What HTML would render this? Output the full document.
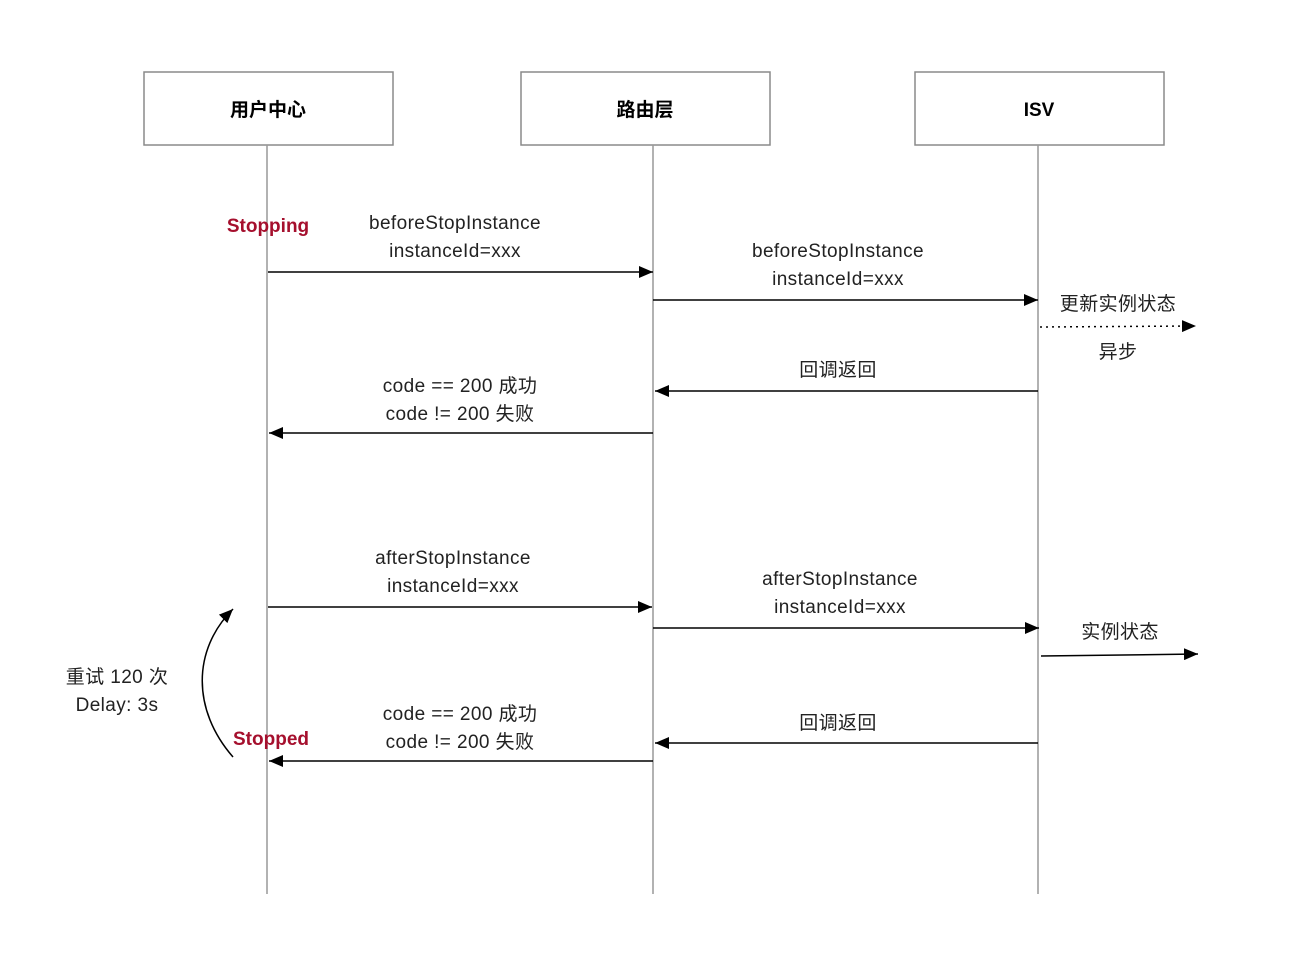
<!DOCTYPE html>
<html><head><meta charset="utf-8"><style>
html,body{margin:0;padding:0;background:#fff;}
svg text{font-family:"Liberation Sans","Noto Sans CJK SC",sans-serif;}
</style></head><body>
<svg width="1290" height="950" viewBox="0 0 1290 950" xmlns="http://www.w3.org/2000/svg">
<defs>
<marker id="a" markerWidth="14" markerHeight="12" refX="14" refY="6" orient="auto" markerUnits="userSpaceOnUse">
<path d="M0,0 L14,6 L0,12 Z" fill="#000"/></marker>
</defs>
<g fill="#fff" stroke="#8a8a8a" stroke-width="1.5">
<rect x="144" y="72" width="249" height="73"/>
<rect x="521" y="72" width="249" height="73"/>
<rect x="915" y="72" width="249" height="73"/>
</g>
<g stroke="#999" stroke-width="1.5">
<line x1="267" y1="145" x2="267" y2="894"/>
<line x1="653" y1="145" x2="653" y2="894"/>
<line x1="1038" y1="145" x2="1038" y2="894"/>
</g>
<g font-size="19" font-weight="bold" text-anchor="middle" fill="#000">
<text x="268" y="116">用户中心</text>
<text x="645" y="116">路由层</text>
<text x="1039" y="116">ISV</text>
</g>
<g stroke="#000" stroke-width="1.5" marker-end="url(#a)">
<line x1="268" y1="272" x2="653" y2="272"/>
<line x1="653" y1="300" x2="1038" y2="300"/>
<line x1="1040" y1="327" x2="1196" y2="326" stroke-dasharray="2,4"/>
<line x1="1038" y1="391" x2="655" y2="391"/>
<line x1="653" y1="433" x2="269" y2="433"/>
<line x1="268" y1="607" x2="652" y2="607"/>
<line x1="653" y1="628" x2="1039" y2="628"/>
<line x1="1041" y1="656" x2="1198" y2="654"/>
<line x1="1038" y1="743" x2="655" y2="743"/>
<line x1="653" y1="761" x2="269" y2="761"/>
<path d="M233,757 C192,710 192,650 233,609" fill="none"/>
</g>
<g font-size="19" text-anchor="middle" fill="#222" letter-spacing="0.4">
<text x="455" y="229">beforeStopInstance</text>
<text x="455" y="257">instanceId=xxx</text>
<text x="838" y="257">beforeStopInstance</text>
<text x="838" y="285">instanceId=xxx</text>
<text x="1118" y="310">更新实例状态</text>
<text x="1118" y="358">异步</text>
<text x="838" y="376">回调返回</text>
<text x="460" y="392">code == 200 成功</text>
<text x="460" y="420">code != 200 失败</text>
<text x="453" y="564">afterStopInstance</text>
<text x="453" y="592">instanceId=xxx</text>
<text x="840" y="585">afterStopInstance</text>
<text x="840" y="613">instanceId=xxx</text>
<text x="1120" y="638">实例状态</text>
<text x="117" y="683">重试 120 次</text>
<text x="117" y="711">Delay: 3s</text>
<text x="838" y="729">回调返回</text>
<text x="460" y="720">code == 200 成功</text>
<text x="460" y="748">code != 200 失败</text>
</g>
<g font-size="19" font-weight="bold" text-anchor="middle" fill="#a50f2d">
<text x="268" y="232">Stopping</text>
<text x="271" y="745">Stopped</text>
</g>
</svg>
</body></html>
